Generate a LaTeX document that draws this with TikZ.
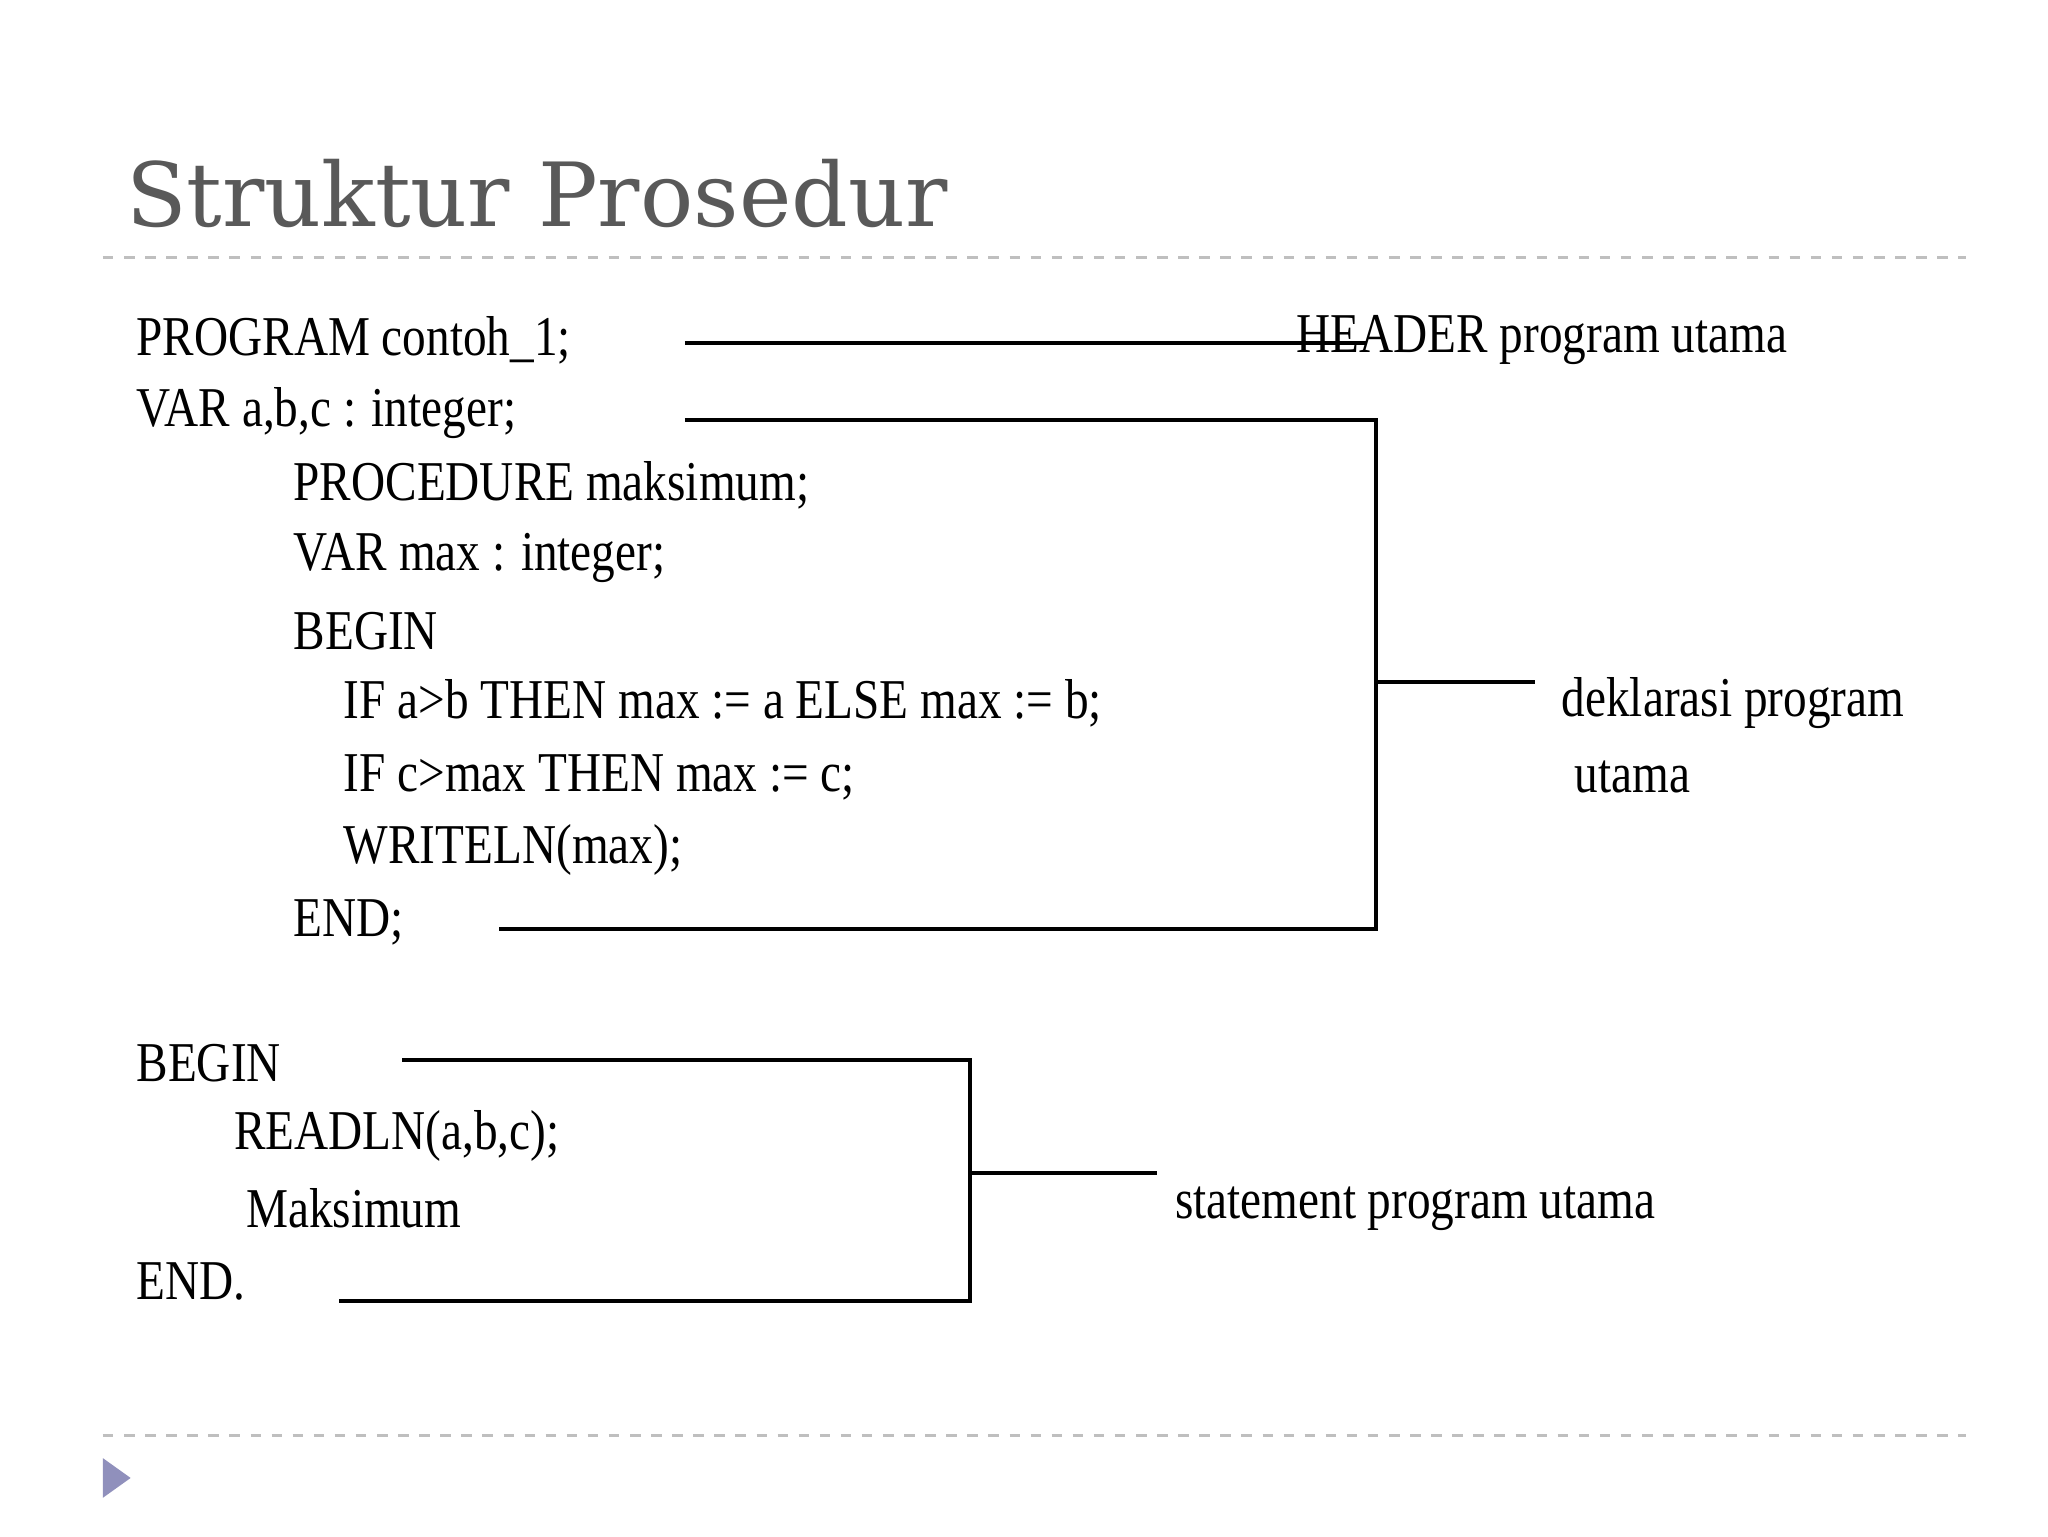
\documentclass[tikz,border=0pt]{standalone}
\usepackage{fontspec}
\setmainfont{Liberation Serif}
\newfontfamily\codefont[FakeStretch=0.84]{Liberation Serif}
\newfontfamily\titlefont{DejaVu Serif}
\begin{document}
\begin{tikzpicture}[x=0.013196cm,y=-0.013196cm,
  code/.style={anchor=west,inner sep=0pt,font=\codefont\fontsize{16}{19}\selectfont},
  conn/.style={line width=1.2pt,black},
  sep/.style={dashed,gray!50,line width=0.8pt}]
\useasboundingbox (0,0) rectangle (1552,1164);
\fill[white] (0,0) rectangle (1552,1164);
\node[anchor=base west,inner sep=0pt,text=black!65,font=\titlefont\fontsize{25.2}{30}\selectfont] (title) at (95,172) {Struktur Prosedur};
\draw[sep] (78,195) -- (1490,195);
\draw[sep] (78,1088) -- (1490,1088);
\fill[blue!25!gray!70] (78,1105) -- (99,1120) -- (78,1135) -- cycle;
\node[code] (l1) at (103,258) {PROGRAM contoh\_1;};
\node[code] (l2) at (103,313) {VAR a,b,c : integer;};
\node[code] (l3) at (222,368) {PROCEDURE maksimum;};
\node[code] (l4) at (222,423) {VAR max : integer;};
\node[code] (l5) at (222,478) {BEGIN};
\node[code] (l6) at (260,533) {IF a>b THEN max := a ELSE max := b;};
\node[code] (l7) at (260,589) {IF c>max THEN max := c;};
\node[code] (l8) at (260,644) {WRITELN(max);};
\node[code] (l9) at (222,699) {END;};
\node[code] (m1) at (103,806) {BEGIN};
\node[code] (m2) at (177,861) {READLN(a,b,c);};
\node[code] (m3) at (186,916) {Maksimum};
\node[code] (m4) at (103,971) {END.};
\node[code] (hdr) at (982,258) {HEADER program utama};
\node[code] (dk1) at (1183,533) {deklarasi program};
\node[code] (dk2) at (1193,589) {utama};
\node[code] (st) at (890,916) {statement program utama};
\coordinate (h0) at (519,260);
\coordinate (d0) at (519,318);
\coordinate (d1) at (378,704);
\coordinate (s0) at (305,803);
\coordinate (s1) at (257,986);
\coordinate (db) at (1163,517);
\coordinate (sb) at (877,889);
\draw[conn] (h0) -- (1035,260);
\draw[conn] (d0) -- (1043,318) -- (1043,704) -- (d1);
\draw[conn] (1043,517) -- (db);
\draw[conn] (s0) -- (735,803) -- (735,986) -- (s1);
\draw[conn] (735,889) -- (sb);
\end{tikzpicture}
\end{document}
